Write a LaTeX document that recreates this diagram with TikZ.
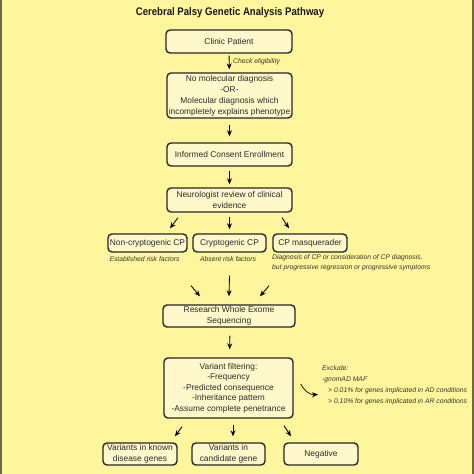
\documentclass[tikz,border=0pt]{standalone}
\usepackage{fontspec}
\setmainfont{Liberation Sans}
\usetikzlibrary{arrows.meta,calc}
\definecolor{bg}{HTML}{FFF59D}
\definecolor{boxfill}{HTML}{FFF8CA}
\definecolor{frame}{HTML}{6B6A45}
\definecolor{txt}{HTML}{2A2A2A}
\definecolor{note}{HTML}{35352A}
\begin{document}
\begin{tikzpicture}[x=1pt,y=-1pt,
  box/.style={draw=black!85,line width=1.4pt,rounded corners=4pt,fill=boxfill,
    text=txt,font=\fontsize{8.4}{11}\selectfont,align=center,inner sep=1pt},
  arr/.style={-{Stealth[length=6pt,width=5pt]},line width=0.85pt,black},
  notetxt/.style={font=\fontsize{6.8}{10.5}\selectfont\itshape,text=note,inner sep=0pt}]
\useasboundingbox (0,0) rectangle (474,474);
\fill[bg] (0,0) rectangle (474,474);
\fill[frame] (0,0) rectangle (2,474);
\fill[frame] (472,0) rectangle (474,474);

\node[font=\fontsize{9.6}{11}\selectfont\bfseries,text=black!90] (title) at (230,13) {\scalebox{1}[1.15]{Cerebral Palsy Genetic Analysis Pathway}};

\node[box,minimum width=126pt,minimum height=23pt] (clinic) at (229,41.5) {Clinic Patient};
\node[box,minimum width=125pt,minimum height=45pt] (nomol) at (229.5,95.5) {No molecular diagnosis\\-OR-\\Molecular diagnosis which\\incompletely explains phenotype};
\node[box,minimum width=125pt,minimum height=23pt] (consent) at (229.5,154.5) {Informed Consent Enrollment};
\node[box,minimum width=125pt,minimum height=24pt] (neuro) at (229.5,200) {Neurologist review of clinical\\evidence};
\node[box,minimum width=79pt,minimum height=18pt] (noncp) at (147.5,243) {Non-cryptogenic CP};
\node[box,minimum width=73pt,minimum height=18pt] (crypto) at (229.5,243) {Cryptogenic CP};
\node[box,minimum width=74pt,minimum height=18pt] (masq) at (310,243) {CP masquerader};
\node[box,minimum width=132pt,minimum height=22pt] (wes) at (229,316) {Research Whole Exome\\Sequencing};
\node[box,minimum width=129pt,minimum height=60pt,font=\fontsize{8.4}{10.5}\selectfont] (filt) at (228.5,388) {Variant filtering:\\-Frequency\\-Predicted consequence\\-Inheritance pattern\\-Assume complete penetrance};
\node[box,minimum width=74pt,minimum height=22pt] (known) at (140,454) {Variants in known\\disease genes};
\node[box,minimum width=73pt,minimum height=22pt] (cand) at (228.5,454) {Variants in\\candidate gene};
\node[box,minimum width=74pt,minimum height=22pt] (neg) at (321,454) {Negative};

\node[notetxt,anchor=west] (check) at (233,62) {Check eligibility};
\node[notetxt] (estab) at (144.5,259) {Established risk factors};
\node[notetxt] (absent) at (228,259) {Absent risk factors};
\node[notetxt,anchor=north west,align=left] (diag) at (272,254) {Diagnosis of CP or consideration of CP diagnosis,\\but progressive regression or progressive symptoms};
\node[notetxt,anchor=north west,align=left,font=\fontsize{6.8}{11}\selectfont\itshape] (excl) at (322,365.5) {Exclude:\\-gnomAD MAF\\\hspace*{6pt}> 0.01\% for genes implicated in AD conditions\\\hspace*{6pt}> 0.10\% for genes implicated in AR conditions};

\draw[arr,shorten <=2pt,shorten >=3pt] (clinic) -- (nomol);
\draw[arr,shorten <=6pt,shorten >=6pt] (nomol) -- (consent);
\draw[arr,shorten <=4pt,shorten >=3pt] (consent) -- (neuro);
\draw[arr] ($(neuro.south)+(-51.5,5)$) -- ($(noncp.north)+(22.5,-5)$);
\draw[arr] ($(neuro.south)+(0,4)$) -- ($(crypto.north)+(0,-4)$);
\draw[arr] ($(neuro.south)+(52.5,5)$) -- ($(masq.north)+(-21,-5)$);
\draw[arr] ($(noncp.south)+(43.5,33)$) -- ($(wes.north)+(-29,-8)$);
\draw[arr] ($(crypto.south)+(0,23)$) -- ($(wes.north)+(0,-8)$);
\draw[arr] ($(masq.south)+(-41,33)$) -- ($(wes.north)+(31,-8)$);
\draw[arr,shorten <=8pt,shorten >=8pt] ($(wes.south)+(1,0)$) -- ($(filt.north)+(1,0)$);
\draw[arr] ($(filt.south)+(-46.5,8)$) -- ($(known.north)+(35,-6)$);
\draw[arr] ($(filt.south)+(4.5,6)$) -- ($(cand.north)+(4.5,-6)$);
\draw[arr] ($(filt.south)+(55.5,7)$) -- ($(neg.north)+(-30,-6)$);
\coordinate (exclin) at ($(excl.west)+(-4,9)$);
\draw[arr,line width=0.7pt] ($(filt.east)+(7,-4)$) .. controls ($(filt.east)+(11,3)$) and ($(filt.east)+(16,7)$) .. (exclin);
\end{tikzpicture}
\end{document}
